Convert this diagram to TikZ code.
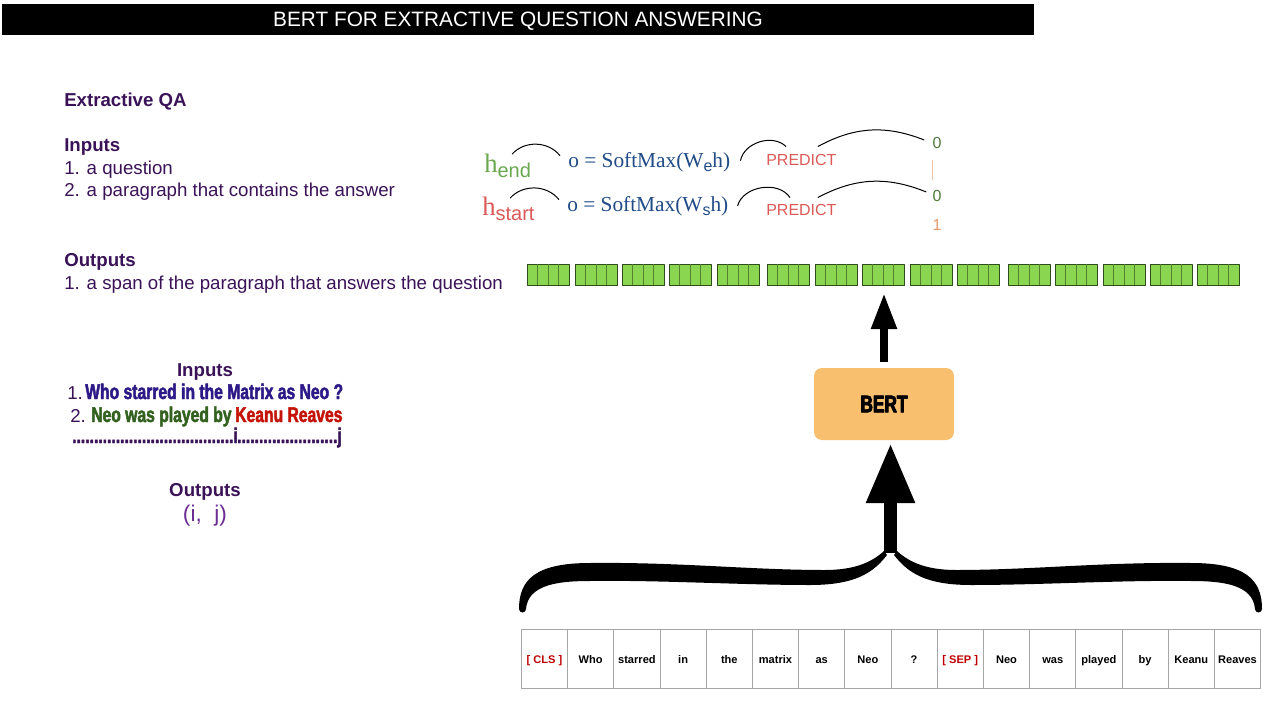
\documentclass[tikz,border=0pt]{standalone}
\usepackage{fontspec}
\setmainfont{Liberation Sans}
\newfontfamily\serifface{Liberation Serif}
\newfontfamily\heavyface[FakeStretch=0.735,FakeBold=2.2]{Liberation Sans Bold}
\newfontfamily\blackface[FakeStretch=0.72,FakeBold=3.5]{Liberation Sans Bold}
\usetikzlibrary{arrows.meta,positioning}
\definecolor{plum}{HTML}{3A1257}
\definecolor{plumlight}{HTML}{6B2C91}
\definecolor{leaf}{HTML}{6AA84F}
\definecolor{coral}{HTML}{DB5A58}
\definecolor{navy}{HTML}{1F4B87}
\definecolor{peach}{HTML}{E39A6C}
\definecolor{moss}{HTML}{4F7A3A}
\definecolor{mint}{HTML}{8AD650}
\definecolor{sand}{HTML}{F8BF6F}
\definecolor{questblue}{HTML}{2E1A87}
\definecolor{paragreen}{HTML}{33611F}
\definecolor{ansred}{HTML}{C41408}
\newcommand\subtxt[1]{\raisebox{-2.5pt}{\fontsize{12}{12}\selectfont\rmfamily #1}}
\newcommand\subbig[1]{\raisebox{-3.5pt}{\fontsize{15}{15}\selectfont\rmfamily #1}}
\tikzset{
    txt/.style={inner sep=0pt, anchor=base west, text=plum, font=\fontsize{14}{16}\selectfont},
    head/.style={txt, font=\fontsize{14}{16}\selectfont\bfseries},
    chead/.style={head, anchor=base},
    heavy/.style={inner sep=0pt, anchor=base west, font=\fontsize{16}{18}\heavyface\selectfont},
    formula/.style={inner sep=0pt, anchor=base west, text=navy, font=\fontsize{16}{18}\serifface\selectfont},
    hlabel/.style={inner sep=0pt, anchor=base west, font=\fontsize{20}{22}\serifface\selectfont},
    predict/.style={inner sep=0pt, anchor=base west, text=coral, font=\fontsize{12}{14}\selectfont},
    digit/.style={inner sep=0pt, font=\fontsize{12}{14}\selectfont},
    arcline/.style={line width=.75pt, black},
    token/.style={draw=gray!70, line width=.6pt, minimum width=34.65pt, minimum height=44.25pt, inner sep=0pt, text height=7pt, text depth=.2pt, font=\fontsize{8.3}{10}\selectfont\bfseries},
    vecbox/.style={draw=black!65!mint, fill=mint, line width=.75pt, minimum width=31.75pt, minimum height=15.75pt, inner sep=0pt},
}
\begin{document}
\begin{tikzpicture}[x=.75pt, y=-.75pt, line join=round]
    \useasboundingbox (0,0) rectangle (1280,720);
    % title bar
    \node[fill=black, text=white, minimum width=774pt, minimum height=23.25pt, inner sep=0pt, text height=11.2pt, text depth=0pt, font=\fontsize{15.6}{18}\selectfont] (title) at (518,19.5) {BERT FOR EXTRACTIVE QUESTION ANSWERING};
    % left column
    \node[head] (qa) at (64,107) {Extractive QA};
    \node[head] (inA) at (64,152) {Inputs};
    \node[txt] (inAa) at (64,175) {1. a question};
    \node[txt] (inAb) at (64,197) {2. a paragraph that contains the answer};
    \node[head] (outA) at (64,267) {Outputs};
    \node[txt] (outAa) at (64,289) {1. a span of the paragraph that answers the question};
    % example
    \node[chead] (inB) at (205,376) {Inputs};
    \node[txt] (numA) at (67,399) {1.};
    \node[heavy, text=questblue] (quest) at (85,399) {Who starred in the Matrix as Neo ?};
    \node[txt] (numB) at (70,422) {2.};
    \node[heavy, text=paragreen] (para) at (91,422) {Neo was played by};
    \node[heavy, text=ansred] (ans) at (235,422) {Keanu Reaves};
    \node[heavy, text=plum, anchor=base east] (spani) at (238,443) {.....................................i};
    \node[heavy, text=plum, anchor=base east] (spanj) at (342,443) {.......................j};
    \node[chead] (outB) at (205,496) {Outputs};
    \node[txt, anchor=base, text=plumlight, font=\fontsize{17}{18}\selectfont] (outij) at (205,521) {(i,\ \ j)};
    % prediction heads
    \node[hlabel, text=leaf] (hend) at (484,173) {h\subbig{end}};
    \node[hlabel, text=coral] (hstart) at (482,216) {h\subbig{start}};
    \node[formula] (fend) at (568,168) {o = SoftMax(W\subtxt{e}h)};
    \node[formula] (fstart) at (567,212) {o = SoftMax(W\subtxt{s}h)};
    \node[predict] (pend) at (766,166) {PREDICT};
    \node[predict] (pstart) at (766,216) {PREDICT};
    \node[digit, text=moss] (zeroA) at (937,143) {0};
    \node[digit, text=moss] (zeroB) at (937,196) {0};
    \node[digit, text=peach] (oneB) at (937,225) {1};
    \coordinate (barA) at (932.5,160);
    \coordinate (barB) at (932.5,180);
    \draw[peach!60, line width=.6pt] (barA) -- (barB);
    \draw[arcline] ([shift={(28,0)}]hend.north west) to[bend left=50] ([shift={(-8,3)}]fend.north west);
    \draw[arcline] ([shift={(28,1)}]hstart.north west) to[bend left=50] ([shift={(-8,3)}]fstart.north west);
    \draw[arcline] ([shift={(10,8)}]fend.north east) to[bend left=62] ([shift={(20,-8)}]pend.north west);
    \draw[arcline] ([shift={(9,9)}]fstart.north east) to[bend left=65] ([shift={(24,-7)}]pstart.north west);
    \draw[arcline] ([shift={(-19,-8)}]pend.north east) to[bend left=25] ([shift={(-8,-3)}]zeroA.west);
    \draw[arcline] ([shift={(-19,-7)}]pstart.north east) to[bend left=25] ([shift={(-6,-4)}]zeroB.west);
    % output vectors
    \foreach \n/\x in {1/527,2/575,3/622,4/669,5/717,6/767,7/815,8/862,9/910,10/957,11/1008,12/1055,13/1103,14/1150,15/1197}{
        \node[vecbox, anchor=north west] (vec\n) at (\x,264) {};
        \foreach \k in {1,2,3}
            \draw[black!40!mint, line width=.6pt] (\x+10.6*\k,264) -- (\x+10.6*\k,285);
    }
    % BERT
    \node[fill=sand, rounded corners=6pt, minimum width=105pt, minimum height=54pt, inner sep=0pt, font=\fontsize{18}{20}\blackface\selectfont] (bert) at (884,404) {BERT};
    \coordinate (bertout) at (884,362);
    \coordinate (vectip) at (884,293);
    \draw[line width=6pt, -{Triangle[length=27pt,width=18pt]}] (bertout) -- (vectip);
    % token row
    \foreach \i/\w/\c in {0/{[ CLS ]}/red!75!black,1/Who/black,2/starred/black,3/in/black,4/the/black,5/matrix/black,6/as/black,7/Neo/black,8/?/black,9/{[ SEP ]}/red!75!black,10/Neo/black,11/was/black,12/played/black,13/by/black,14/Keanu/black,15/Reaves/black}
        \node[token, text=\c, anchor=north west] (tok\i) at (521+46.2*\i,629) {\w};
    % brace over the tokens
    \foreach \s/\o in {1/0,-1/1781}
    \fill[black, xscale=\s, shift={(\o*\s,0)}] (519,609) .. controls (519,580) and (535,563) .. (590,563)
        .. controls (680,562) and (750,570) .. (825,570) .. controls (855,570) and (872,562) .. (884,551)
        -- (887,555) .. controls (873,573) and (855,585) .. (810,585)
        .. controls (740,585) and (660,580) .. (590,581) .. controls (560,581) and (528,584) .. (526,609)
        arc[start angle=0, end angle=180, radius=3.5] -- cycle;
    \coordinate (stem) at (890.5,553);
    \coordinate (stemtip) at (890.5,443);
    \draw[line width=10pt, -{Triangle[length=45pt,width=34pt]}] (stem) -- (stemtip);
\end{tikzpicture}
\end{document}
